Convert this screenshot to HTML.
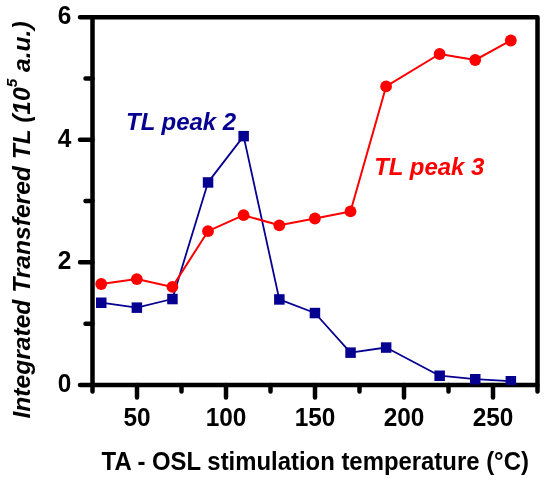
<!DOCTYPE html>
<html><head><meta charset="utf-8"><style>
html,body{margin:0;padding:0;background:#fff;}
body{width:550px;height:484px;overflow:hidden;}
svg{display:block;}
text{font-family:"Liberation Sans",Arial,sans-serif;font-weight:bold;font-size:24px;}
.it{font-style:italic;}
</style></head><body>
<svg width="550" height="484" viewBox="0 0 550 484">
<rect width="550" height="484" fill="#fff"/>
<!-- ticks -->
<g stroke="#000" stroke-width="4.5" stroke-linecap="round" fill="none">
<path d="M80 385H92.5M80 262.3H92.5M80 139.7H92.5M80 17.3H92.5"/>
<path d="M85.5 323.7H92.5M85.5 201H92.5M85.5 78.4H92.5"/>
<path d="M137 385V397.5M226 385V397.5M315 385V397.5M404 385V397.5M493 385V397.5"/>
<path d="M92.5 385V391.5M181.5 385V391.5M270.5 385V391.5M359.5 385V391.5M448.5 385V391.5M537.5 385V391.5"/>
<path d="M92.5 17.3H537.5V385H92.5Z" stroke-linejoin="round"/>
</g>
<!-- tick labels -->
<g text-anchor="end">
<text transform="translate(71.2,392.1) scale(1,1.02)" style="font-size:24.4px">0</text>
<text transform="translate(71.2,269.4) scale(1,1.02)" style="font-size:24.4px">2</text>
<text transform="translate(71.2,146.8) scale(1,1.02)" style="font-size:24.4px">4</text>
<text transform="translate(71.2,24.4) scale(1,1.02)" style="font-size:24.4px">6</text>
</g>
<g text-anchor="middle">
<text transform="translate(137,426.4) scale(1,1.02)" style="font-size:24.4px">50</text>
<text transform="translate(226,426.4) scale(1,1.02)" style="font-size:24.4px">100</text>
<text transform="translate(315,426.4) scale(1,1.02)" style="font-size:24.4px">150</text>
<text transform="translate(404,426.4) scale(1,1.02)" style="font-size:24.4px">200</text>
<text transform="translate(493,426.4) scale(1,1.02)" style="font-size:24.4px">250</text>
</g>
<text transform="translate(101.6,469.9) scale(1,1.04)" style="font-size:23.9px">TA - OSL stimulation temperature (°C)</text>
<text class="it" style="font-size:24.6px" transform="translate(30.3,418.5) rotate(-90)">Integrated Transfered TL (10<tspan dy="-13.2" style="font-size:15.3px">5</tspan><tspan dy="13.2"> a.u.)</tspan></text>
<defs><clipPath id="pc"><rect x="92.5" y="17.3" width="445" height="367.7"/></clipPath></defs>
<g clip-path="url(#pc)">
<!-- blue series -->
<polyline fill="none" stroke="#060091" stroke-width="1.8" stroke-linejoin="round" points="101.2,302.7 136.8,307.6 172.4,299 208,182.4 243.6,136.1 279.3,299.4 314.9,313 350.5,352.6 386.1,347.5 439.6,375.7 475.2,379.2 510.8,381.2"/>
<!-- red series -->
<polyline fill="none" stroke="#ff0000" stroke-width="2" stroke-linejoin="round" points="101.2,284 136.8,279.1 172.4,286.9 208,231.2 243.6,215.2 279.3,225.3 314.9,218.5 350.5,211.4 386.1,86.4 439.6,54 475.2,60 510.8,40.5"/>
<g fill="#060091">
<rect x="96" y="297.5" width="10.5" height="10.5"/>
<rect x="131.6" y="302.4" width="10.5" height="10.5"/>
<rect x="167.2" y="293.8" width="10.5" height="10.5"/>
<rect x="202.8" y="177.2" width="10.5" height="10.5"/>
<rect x="238.4" y="130.9" width="10.5" height="10.5"/>
<rect x="274.1" y="294.2" width="10.5" height="10.5"/>
<rect x="309.7" y="307.8" width="10.5" height="10.5"/>
<rect x="345.3" y="347.4" width="10.5" height="10.5"/>
<rect x="380.9" y="342.3" width="10.5" height="10.5"/>
<rect x="434.4" y="370.5" width="10.5" height="10.5"/>
<rect x="470" y="374" width="10.5" height="10.5"/>
<rect x="505.6" y="376" width="10.5" height="10.5"/>
</g>
<g fill="#ff0000">
<circle cx="101.2" cy="284" r="5.9"/>
<circle cx="136.8" cy="279.1" r="5.9"/>
<circle cx="172.4" cy="286.9" r="5.9"/>
<circle cx="208" cy="231.2" r="5.9"/>
<circle cx="243.6" cy="215.2" r="5.9"/>
<circle cx="279.3" cy="225.3" r="5.9"/>
<circle cx="314.9" cy="218.5" r="5.9"/>
<circle cx="350.5" cy="211.4" r="5.9"/>
<circle cx="386.1" cy="86.4" r="5.9"/>
<circle cx="439.6" cy="54" r="5.9"/>
<circle cx="475.2" cy="60" r="5.9"/>
<circle cx="510.8" cy="40.5" r="5.9"/>
</g>
</g>
<text class="it" transform="translate(126,129.8) scale(1,1.035)" fill="#060091">TL peak 2</text>
<text class="it" transform="translate(374.2,175.2) scale(1,1.035)" fill="#ff0000">TL peak 3</text>
</svg>
</body></html>
